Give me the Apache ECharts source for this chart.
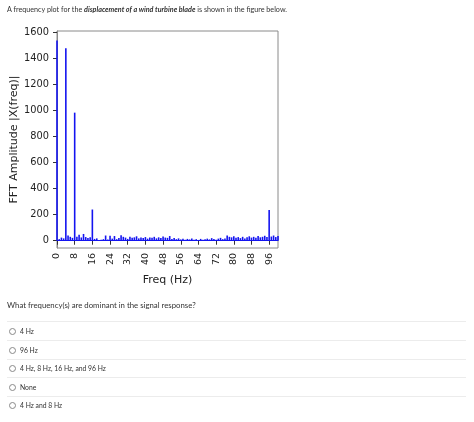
<!DOCTYPE html>
<html>
<head>
<meta charset="utf-8">
<script src="https://cdn.jsdelivr.net/npm/echarts@6/dist/echarts.min.js"></script>
<style>
  html, body { margin: 0; padding: 0; background: #fff; }
  #page { position: relative; width: 474px; height: 422px; overflow: hidden; font-family: Lato, "Open Sans", sans-serif; color: #333; }
  #chart { position: absolute; left: 0; top: 0; width: 474px; height: 422px; }
  .txt { position: absolute; white-space: nowrap; }
  .sep { position: absolute; left: 7px; width: 459px; height: 0; border-top: 1px solid #ececec; }
  .opt { position: absolute; left: 9px; font-size: 6.8px; line-height: 8px; white-space: nowrap; }
  .opt i { display: inline-block; width: 5px; height: 5px; border: 0.8px solid #888; border-radius: 50%; margin-right: 4px; vertical-align: -1px; }
</style>
</head>
<body>
<div id="page">
  <div id="chart"></div>
  <div class="txt" style="left:7px;top:5px;font-size:7.2px;">A frequency plot for the <b><i>displacement of a wind turbine blade</i></b> is shown in the figure below.</div>
  <div class="txt" style="left:7px;top:300px;font-size:7.8px;">What frequency(s) are dominant in the signal response?</div>
  <div class="sep" style="top:321px"></div>
  <div class="opt" style="top:327px"><i></i>4 Hz</div>
  <div class="sep" style="top:340px"></div>
  <div class="opt" style="top:346px"><i></i>96 Hz</div>
  <div class="sep" style="top:359px"></div>
  <div class="opt" style="top:364px"><i></i>4 Hz, 8 Hz, 16 Hz, and 96 Hz</div>
  <div class="sep" style="top:377px"></div>
  <div class="opt" style="top:383px"><i></i>None</div>
  <div class="sep" style="top:396px"></div>
  <div class="opt" style="top:401px"><i></i>4 Hz and 8 Hz</div>
</div>
<script>
// frequency bins (Hz) and FFT amplitude
const freqs = [];
for (let f = 0; f <= 100; f++) freqs.push(f);
const amps = [
  1540, 12, 24, 18, 1480, 40, 30, 22, 985, 30,
  45, 25, 52, 28, 20, 26, 240, 14, 18, 6,
  8, 12, 40, 10, 38, 16, 36, 12, 20, 42,
  30, 24, 14, 30, 22, 26, 34, 18, 24, 20,
  28, 16, 24, 22, 30, 18, 26, 20, 32, 24,
  22, 36, 14, 20, 12, 18, 10, 16, 8, 14,
  10, 18, 8, 12, 6, 14, 8, 12, 16, 10,
  20, 14, 8, 16, 22, 12, 18, 40, 30, 26,
  34, 22, 28, 20, 30, 18, 26, 34, 24, 30,
  22, 36, 26, 30, 38, 28, 236, 32, 40, 28,
  36
];
const xTicks = [0, 8, 16, 24, 32, 40, 48, 56, 64, 72, 80, 88, 96];
const yTicks = [0, 200, 400, 600, 800, 1000, 1200, 1400, 1600];

const axisFont = 'DejaVu Sans';
const chart = echarts.init(document.getElementById('chart'));
chart.setOption({
  animation: false,
  grid: { left: 57, right: 196, top: 31, bottom: 174, show: true, borderColor: '#8a8a8a', borderWidth: 1 },
  xAxis: {
    type: 'value', min: 0, max: 100,
    name: 'Freq (Hz)', nameLocation: 'middle', nameGap: 27,
    nameTextStyle: { fontFamily: axisFont, fontSize: 11, color: '#222' },
    axisLine: { show: true, lineStyle: { color: '#8a8a8a', width: 1 } },
    axisTick: { show: true, length: 4, customValues: xTicks, lineStyle: { color: '#333' } },
    axisLabel: { customValues: xTicks, rotate: 90, margin: 5, fontFamily: axisFont, fontSize: 9.5, color: '#222', formatter: v => String(v) },
    splitLine: { show: false }
  },
  yAxis: {
    type: 'value', min: -56, max: 1613,
    name: 'FFT Amplitude |X(freq)|', nameLocation: 'middle', nameGap: 37, nameRotate: 90,
    nameTextStyle: { fontFamily: axisFont, fontSize: 11, color: '#222' },
    axisLine: { show: true, lineStyle: { color: '#8a8a8a', width: 1 } },
    axisTick: { show: true, length: 4, customValues: yTicks, lineStyle: { color: '#333' } },
    axisLabel: { customValues: yTicks, margin: 8, fontFamily: axisFont, fontSize: 9.8, color: '#222', formatter: v => String(v) },
    splitLine: { show: false }
  },
  series: [{
    type: 'bar',
    data: freqs.map((f, i) => [f, amps[i]]),
    barWidth: 1.6,
    itemStyle: { color: '#1414f0' },
    markLine: {
      silent: true, symbol: 'none', label: { show: false },
      lineStyle: { color: '#1414f0', width: 1.2, type: 'solid' },
      data: [{ yAxis: 0 }]
    }
  }]
});
</script>
</body>
</html>
